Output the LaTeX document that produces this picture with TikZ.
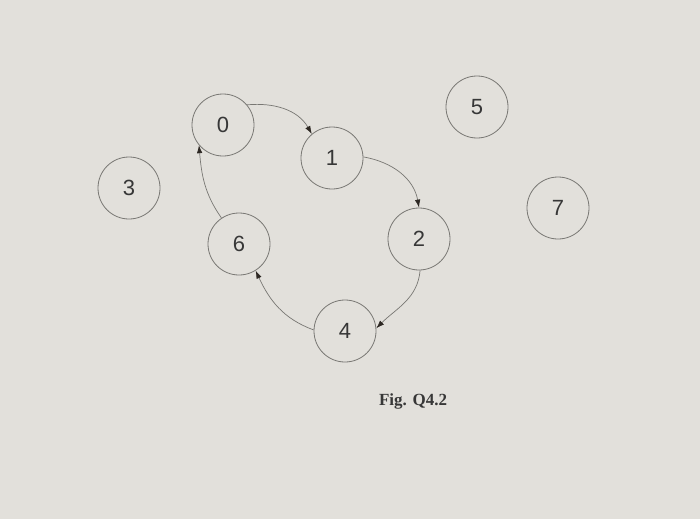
\documentclass[tikz,border=0pt]{standalone}
\usepackage{fontspec}
\setmainfont{Liberation Sans}
\newfontfamily\capfont{Liberation Serif}
\usetikzlibrary{arrows.meta}
\definecolor{bg}{RGB}{226,224,219}
\definecolor{edgec}{RGB}{120,119,115}
\definecolor{tipc}{RGB}{45,40,35}
\definecolor{txtc}{RGB}{55,55,55}
\begin{document}
\begin{tikzpicture}[x=1pt,y=-1pt,
  vtx/.style={circle,draw=edgec,line width=0.8pt,minimum size=62pt,inner sep=0pt,
    font=\fontsize{22}{22}\selectfont,text=txtc},
  edge/.style={draw=edgec,line width=0.7pt,-{Latex[length=8pt,width=5.5pt,color=tipc]}}]
\fill[bg] (0,0) rectangle (700,519);
\useasboundingbox (0,0) rectangle (700,519);
\node[vtx] (n0) at (223,125) {0};
\node[vtx] (n1) at (332,158) {1};
\node[vtx] (n2) at (419,239) {2};
\node[vtx] (n3) at (129,188) {3};
\node[vtx] (n4) at (345,331) {4};
\node[vtx] (n5) at (477,107) {5};
\node[vtx] (n6) at (239,244) {6};
\node[vtx] (n7) at (558,208) {7};
\path[edge] (n0.40) to[out=5,in=120] (n1.130);
\path[edge] (n1.2) to[out=-10,in=100] (n2.90);
\path[edge] (n2.-88) to[out=-95,in=45] (n4.5);
\path[edge] (n4.178) to[out=160,in=-65] (n6.-58);
\path[edge] (n6.124) to[out=125,in=-85] (n0.-140);
\node[font=\capfont\bfseries\fontsize{17}{17}\selectfont,text=txtc] (cap) at (413,401) {Fig. Q4.2};
\end{tikzpicture}
\end{document}
